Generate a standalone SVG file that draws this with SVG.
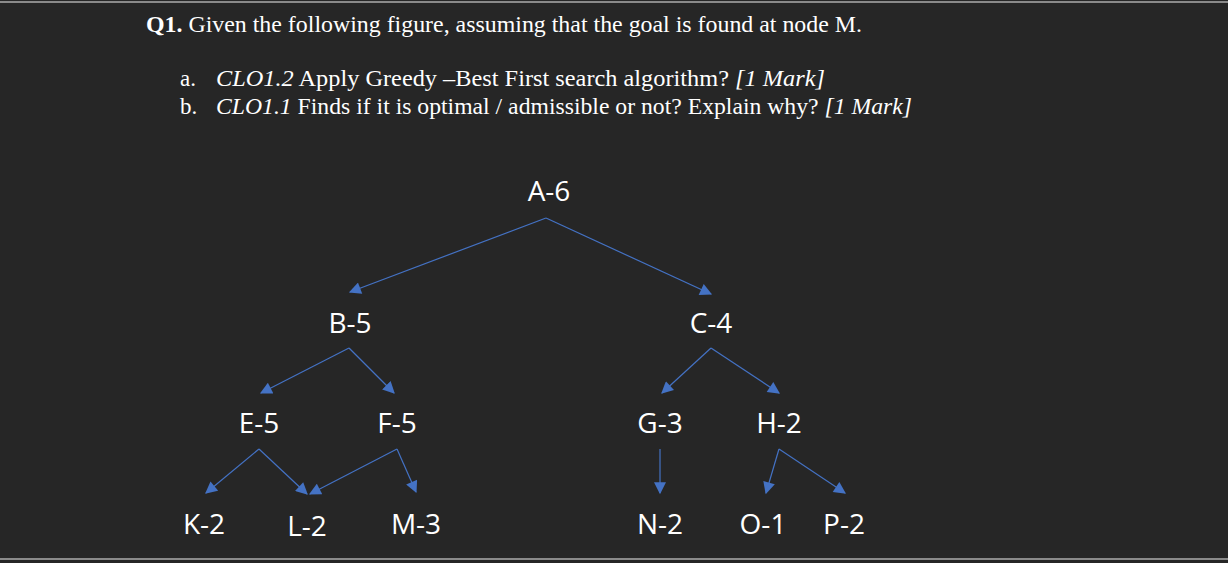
<svg xmlns="http://www.w3.org/2000/svg" width="1228" height="563" viewBox="0 0 1228 563">
<style>
.q{font-family:"Liberation Serif",serif;font-size:23px;fill:#fff}
.n{font-family:"Open Sans","Noto Sans",sans-serif;font-size:28px;fill:#fff;text-anchor:middle}
.e{stroke:#4472c4;stroke-width:1.2;fill:none;marker-end:url(#ah)}
</style>
<defs><marker id="ah" viewBox="0 0 10 10" refX="9" refY="5" markerWidth="13" markerHeight="12" markerUnits="userSpaceOnUse" orient="auto"><path d="M0,0L10,5L0,10z" fill="#4472c4"/></marker></defs>
<rect width="1228" height="563" fill="#262626"/>
<line x1="0" y1="2" x2="1228" y2="2" stroke="#8a8a8a" stroke-width="2"/>
<line x1="0" y1="559" x2="1228" y2="559" stroke="#8a8a8a" stroke-width="2"/>
<g id="question">
<text class="q" x="146" y="32" textLength="716" lengthAdjust="spacingAndGlyphs"><tspan font-weight="bold">Q1.</tspan> Given the following figure, assuming that the goal is found at node M.</text>
<text class="q" x="180" y="86">a.</text>
<text class="q" x="216" y="86" textLength="609" lengthAdjust="spacingAndGlyphs"><tspan font-style="italic">CLO1.2</tspan> Apply Greedy –Best First search algorithm? <tspan font-style="italic">[1 Mark]</tspan></text>
<text class="q" x="180" y="114">b.</text>
<text class="q" x="216" y="114" textLength="696" lengthAdjust="spacingAndGlyphs"><tspan font-style="italic">CLO1.1</tspan> Finds if it is optimal / admissible or not? Explain why? <tspan font-style="italic">[1 Mark]</tspan></text>
</g>
<g id="connectors">
<line class="e" x1="546" y1="218" x2="350" y2="292"/>
<line class="e" x1="546" y1="218" x2="711" y2="294"/>
<line class="e" x1="349" y1="348" x2="261" y2="393"/>
<line class="e" x1="349" y1="348" x2="394" y2="393"/>
<line class="e" x1="711" y1="348" x2="662" y2="393"/>
<line class="e" x1="711" y1="348" x2="779" y2="393"/>
<line class="e" x1="259" y1="449" x2="206" y2="493"/>
<line class="e" x1="259" y1="449" x2="307" y2="494"/>
<line class="e" x1="397" y1="449" x2="310" y2="494"/>
<line class="e" x1="397" y1="449" x2="416" y2="492"/>
<line class="e" x1="660" y1="449" x2="660" y2="493"/>
<line class="e" x1="779" y1="449" x2="766" y2="493"/>
<line class="e" x1="779" y1="449" x2="845" y2="493"/>
</g>
<g id="A"><text class="n" x="549" y="201">A-6</text></g>
<g id="B"><text class="n" x="350" y="333">B-5</text></g>
<g id="C"><text class="n" x="711" y="333">C-4</text></g>
<g id="E"><text class="n" x="259" y="433">E-5</text></g>
<g id="F"><text class="n" x="397" y="433">F-5</text></g>
<g id="G"><text class="n" x="660" y="433">G-3</text></g>
<g id="H"><text class="n" x="779" y="433">H-2</text></g>
<g id="K"><text class="n" x="204" y="534">K-2</text></g>
<g id="L"><text class="n" x="307" y="536">L-2</text></g>
<g id="M"><text class="n" x="416" y="534">M-3</text></g>
<g id="N"><text class="n" x="660" y="534">N-2</text></g>
<g id="O"><text class="n" x="763" y="534">O-1</text></g>
<g id="P"><text class="n" x="844" y="534">P-2</text></g>
</svg>
